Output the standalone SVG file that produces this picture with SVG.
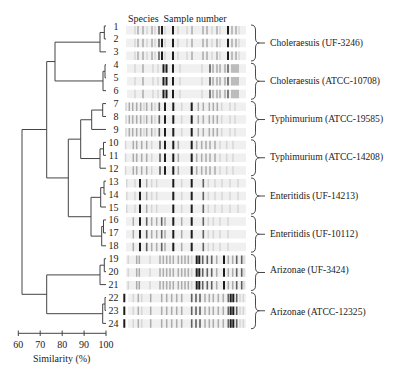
<svg xmlns="http://www.w3.org/2000/svg" width="400" height="378" viewBox="0 0 400 378">
<style>
.ln{stroke:#444;stroke-width:1;fill:none}
.t{font-family:"Liberation Serif",serif;font-size:10px;fill:#222}
.lb{font-family:"Liberation Serif",serif;font-size:9.6px;fill:#222}
.bg{fill:#f0f0f0}
.k{stroke:#1c1c1c;stroke-width:2;fill:none}
.d{stroke:#606060;stroke-width:1.6;fill:none}
.m{stroke:#ababab;stroke-width:1.5;fill:none}
.l{stroke:#d6d6d6;stroke-width:1.5;fill:none}
.br{stroke:#333;stroke-width:0.9;fill:none}
.lane{filter:url(#soft)}
</style>
<defs>
<filter id="soft" x="-5%" y="-20%" width="110%" height="140%"><feGaussianBlur stdDeviation="0.45 0.25"/></filter>
<g id="p1"><rect class="bg" x="126" y="0" width="120" height="8.5"/>
<path class="l" d="M135,0v8.5M147,0v8.5M155,0v8.5M165,0v8.5M178,0v8.5M187,0v8.5M212,0v8.5M220,0v8.5M239,0v8.5"/>
<path class="m" d="M138,0v8.5M143,0v8.5M152,0v8.5M192,0v8.5M203,0v8.5M207,0v8.5M217,0v8.5M232,0v8.5M236,0v8.5"/>
<path class="d" d="M159,0v8.5"/>
<path class="k" d="M162,0v8.5M173,0v8.5M228,0v8.5"/></g>
<g id="p2"><rect class="bg" x="127" y="0" width="119" height="8.5"/>
<path class="l" d="M135,0v8.5M153,0v8.5M158,0v8.5M180,0v8.5M202,0v8.5"/>
<path class="m" d="M143,0v8.5M213,0v8.5M217,0v8.5M220,0v8.5M225,0v8.5M232,0v8.5M234,0v8.5M236,0v8.5M238,0v8.5"/>
<path class="d" d="M210,0v8.5M228,0v8.5"/>
<path class="k" d="M163.5,0v8.5M166.5,0v8.5M173,0v8.5"/></g>
<g id="p3"><rect class="bg" x="125" y="0" width="121" height="8.5"/>
<path class="l" d="M126,0v8.5M144,0v8.5M155,0v8.5M181.7,0v8.5M221.7,0v8.5M230,0v8.5M235,0v8.5"/>
<path class="m" d="M129.3,0v8.5M132.7,0v8.5M136.7,0v8.5M140.7,0v8.5M146.7,0v8.5M151.7,0v8.5M198.3,0v8.5M203.3,0v8.5M209.3,0v8.5M213.3,0v8.5M217.3,0v8.5"/>
<path class="d" d="M159.3,0v8.5"/>
<path class="k" d="M165,0v8.5M173.3,0v8.5M191.7,0v8.5"/></g>
<g id="p4"><rect class="bg" x="125" y="0" width="121" height="8.5"/>
<path class="l" d="M125.5,0v8.5M151.7,0v8.5M220,0v8.5M226.7,0v8.5M233,0v8.5"/>
<path class="m" d="M133.3,0v8.5M136.7,0v8.5M141.7,0v8.5M146.7,0v8.5M178.3,0v8.5M196.7,0v8.5M201.7,0v8.5M206,0v8.5M210,0v8.5M215,0v8.5"/>
<path class="d" d="M160,0v8.5"/>
<path class="k" d="M165,0v8.5M173.3,0v8.5M191.7,0v8.5"/></g>
<g id="p5"><rect class="bg" x="126" y="0" width="120" height="8.5"/>
<path class="l" d="M126.7,0v8.5M135,0v8.5M151.7,0v8.5M156.7,0v8.5M181.7,0v8.5M208.3,0v8.5M215,0v8.5M222,0v8.5M230,0v8.5M238,0v8.5"/>
<path class="m" d="M146.7,0v8.5"/>
<path class="d" d="M203.3,0v8.5"/>
<path class="k" d="M140,0v8.5M173.3,0v8.5M191.7,0v8.5"/></g>
<g id="p6"><rect class="bg" x="126" y="0" width="120" height="8.5"/>
<path class="l" d="M208.3,0v8.5M213.3,0v8.5M220,0v8.5M228,0v8.5"/>
<path class="m" d="M133.3,0v8.5M151.7,0v8.5M156.7,0v8.5M165,0v8.5M181.7,0v8.5"/>
<path class="d" d="M146.7,0v8.5M161.7,0v8.5M203.3,0v8.5"/>
<path class="k" d="M140,0v8.5M173.3,0v8.5M191.7,0v8.5"/></g>
<g id="p7"><rect class="bg" x="126" y="0" width="120" height="8.5"/>
<path class="l" d="M128.3,0v8.5M150,0v8.5M191.7,0v8.5M244,0v8.5"/>
<path class="m" d="M136.7,0v8.5M139.3,0v8.5M160,0v8.5M163.3,0v8.5M166.7,0v8.5M170,0v8.5M173.3,0v8.5M178.3,0v8.5M181.7,0v8.5M185,0v8.5M188.3,0v8.5M216.7,0v8.5M228.3,0v8.5M232.7,0v8.5"/>
<path class="d" d="M202.7,0v8.5M207.3,0v8.5M211.7,0v8.5M236.7,0v8.5M241.7,0v8.5"/>
<path class="k" d="M196.7,0v8.5M199.3,0v8.5M224,0v8.5"/></g>
<g id="p8"><rect class="bg" x="128" y="0" width="118" height="8.5"/>
<path class="k" d="M124.3,0v8.5"/>
<path class="l" d="M133.3,0v8.5M141.7,0v8.5M240,0v8.5M243.3,0v8.5"/>
<path class="m" d="M138.3,0v8.5M150.7,0v8.5M161.7,0v8.5M166.7,0v8.5M171.7,0v8.5M176.7,0v8.5M181.7,0v8.5M205,0v8.5M209.3,0v8.5M213.3,0v8.5M218.3,0v8.5M223.3,0v8.5"/>
<path class="d" d="M191.7,0v8.5M196,0v8.5M200,0v8.5M228.3,0v8.5M236.7,0v8.5"/>
<path class="k" d="M230.7,0v8.5M233.3,0v8.5"/></g>
</defs>

<g id="header">
<text class="t" x="128" y="21.5">Species</text>
<text class="t" x="163.5" y="21.5">Sample number</text>
</g>

<g id="connectors" class="ln">
<path d="M106,26H104.3V38.93H106"/>
<path d="M104.3,32.47H100V51.86H106"/>
<path d="M106,64.79H105V77.72H106"/>
<path d="M105,71.26H103V90.65H106"/>
<path d="M100,42.17H55V80.96H103"/>
<path d="M106,103.58H102.7V116.51H106"/>
<path d="M102.7,110.05H91.7V129.44H106"/>
<path d="M106,142.37H103.5V155.3H106"/>
<path d="M103.5,148.84H100V168.23H106"/>
<path d="M91.7,119.75H80.7V158.54H100"/>
<path d="M106,181.16H104V194.09H106"/>
<path d="M104,187.63H100.7V207.02H106"/>
<path d="M106,219.95H103.5V232.88H106"/>
<path d="M103.5,226.42H101.7V245.81H106"/>
<path d="M100.7,197.33H91V236.12H101.7"/>
<path d="M80.7,139.15H68.3V216.72H91"/>
<path d="M55,61.56H46.7V177.93H68.3"/>
<path d="M106,258.74H104.3V271.67H106"/>
<path d="M104.3,265.2H100V284.6H106"/>
<path d="M106,297.53H105V310.46H106"/>
<path d="M105,304H102.7V323.39H106"/>
<path d="M100,274.9H46.7V313.7H102.7"/>
<path d="M46.7,129.5H22V294.3H46.7"/>
</g>

<g id="row1"><text class="t" x="118.5" y="29.5" text-anchor="end">1</text><use class="lane" href="#p1" y="26"/></g>
<g id="row2"><text class="t" x="118.5" y="42.43" text-anchor="end">2</text><use class="lane" href="#p1" y="38.75"/></g>
<g id="row3"><text class="t" x="118.5" y="55.36" text-anchor="end">3</text><use class="lane" href="#p1" y="51.5"/></g>
<g id="row4"><text class="t" x="118.5" y="68.29" text-anchor="end">4</text><use class="lane" href="#p2" y="64.25"/></g>
<g id="row5"><text class="t" x="118.5" y="81.22" text-anchor="end">5</text><use class="lane" href="#p2" y="77"/></g>
<g id="row6"><text class="t" x="118.5" y="94.15" text-anchor="end">6</text><use class="lane" href="#p2" y="89.75"/></g>
<g id="row7"><text class="t" x="118.5" y="107.08" text-anchor="end">7</text><use class="lane" href="#p3" y="102.5"/></g>
<g id="row8"><text class="t" x="118.5" y="120.01" text-anchor="end">8</text><use class="lane" href="#p3" y="115.25"/></g>
<g id="row9"><text class="t" x="118.5" y="132.94" text-anchor="end">9</text><use class="lane" href="#p3" y="128"/></g>
<g id="row10"><text class="t" x="118.5" y="145.87" text-anchor="end">10</text><use class="lane" href="#p4" y="140.75"/></g>
<g id="row11"><text class="t" x="118.5" y="158.8" text-anchor="end">11</text><use class="lane" href="#p4" y="153.5"/></g>
<g id="row12"><text class="t" x="118.5" y="171.73" text-anchor="end">12</text><use class="lane" href="#p4" y="166.25"/></g>
<g id="row13"><text class="t" x="118.5" y="184.66" text-anchor="end">13</text><use class="lane" href="#p5" y="179"/></g>
<g id="row14"><text class="t" x="118.5" y="197.59" text-anchor="end">14</text><use class="lane" href="#p5" y="191.75"/></g>
<g id="row15"><text class="t" x="118.5" y="210.52" text-anchor="end">15</text><use class="lane" href="#p5" y="204.5"/></g>
<g id="row16"><text class="t" x="118.5" y="223.45" text-anchor="end">16</text><use class="lane" href="#p6" y="217.25"/></g>
<g id="row17"><text class="t" x="118.5" y="236.38" text-anchor="end">17</text><use class="lane" href="#p6" y="230"/></g>
<g id="row18"><text class="t" x="118.5" y="249.31" text-anchor="end">18</text><use class="lane" href="#p6" y="242.75"/></g>
<g id="row19"><text class="t" x="118.5" y="262.24" text-anchor="end">19</text><use class="lane" href="#p7" y="255.5"/></g>
<g id="row20"><text class="t" x="118.5" y="275.17" text-anchor="end">20</text><use class="lane" href="#p7" y="268.25"/></g>
<g id="row21"><text class="t" x="118.5" y="288.1" text-anchor="end">21</text><use class="lane" href="#p7" y="281"/></g>
<g id="row22"><text class="t" x="118.5" y="301.03" text-anchor="end">22</text><use class="lane" href="#p8" y="293.75"/></g>
<g id="row23"><text class="t" x="118.5" y="313.96" text-anchor="end">23</text><use class="lane" href="#p8" y="306.5"/></g>
<g id="row24"><text class="t" x="118.5" y="326.89" text-anchor="end">24</text><use class="lane" href="#p8" y="319.25"/></g>

<g id="grp1"><path class="br" d="M251,25Q255.5,25 255.5,30V38Q255.5,43 259.5,43Q255.5,43 255.5,48V56Q255.5,61 251,61M259.5,43H265"/><text class="lb" x="270" y="46.3">Choleraesuis (UF-3246)</text></g>
<g id="grp2"><path class="br" d="M251,63.25Q255.5,63.25 255.5,68.25V76.25Q255.5,81.25 259.5,81.25Q255.5,81.25 255.5,86.25V94.25Q255.5,99.25 251,99.25M259.5,81.25H265"/><text class="lb" x="270" y="84.3">Choleraesuis (ATCC-10708)</text></g>
<g id="grp3"><path class="br" d="M251,101.5Q255.5,101.5 255.5,106.5V114.5Q255.5,119.5 259.5,119.5Q255.5,119.5 255.5,124.5V132.5Q255.5,137.5 251,137.5M259.5,119.5H265"/><text class="lb" x="270" y="122.3">Typhimurium (ATCC-19585)</text></g>
<g id="grp4"><path class="br" d="M251,139.75Q255.5,139.75 255.5,144.75V152.75Q255.5,157.75 259.5,157.75Q255.5,157.75 255.5,162.75V170.75Q255.5,175.75 251,175.75M259.5,157.75H265"/><text class="lb" x="270" y="159.8">Typhimurium (ATCC-14208)</text></g>
<g id="grp5"><path class="br" d="M251,178Q255.5,178 255.5,183V191Q255.5,196 259.5,196Q255.5,196 255.5,201V209Q255.5,214 251,214M259.5,196H265"/><text class="lb" x="270" y="198.6">Enteritidis (UF-14213)</text></g>
<g id="grp6"><path class="br" d="M251,216.25Q255.5,216.25 255.5,221.25V229.25Q255.5,234.25 259.5,234.25Q255.5,234.25 255.5,239.25V247.25Q255.5,252.25 251,252.25M259.5,234.25H265"/><text class="lb" x="270" y="236.6">Enteritidis (UF-10112)</text></g>
<g id="grp7"><path class="br" d="M251,254.5Q255.5,254.5 255.5,259.5V267.5Q255.5,272.5 259.5,272.5Q255.5,272.5 255.5,277.5V285.5Q255.5,290.5 251,290.5M259.5,272.5H265"/><text class="lb" x="270" y="273.3">Arizonae (UF-3424)</text></g>
<g id="grp8"><path class="br" d="M251,292.75Q255.5,292.75 255.5,297.75V305.75Q255.5,310.75 259.5,310.75Q255.5,310.75 255.5,315.75V323.75Q255.5,328.75 251,328.75M259.5,310.75H265"/><text class="lb" x="270" y="314.6">Arizonae (ATCC-12325)</text></g>

<g id="axis">
<path class="ln" d="M18.3,333.3H106M18.3,330.5V336M40.2,330.5V336M62.2,330.5V336M84.1,330.5V336M106,330.5V336"/>
<text class="t" x="18.3" y="347.8" text-anchor="middle">60</text>
<text class="t" x="40.2" y="347.8" text-anchor="middle">70</text>
<text class="t" x="62.2" y="347.8" text-anchor="middle">80</text>
<text class="t" x="84.1" y="347.8" text-anchor="middle">90</text>
<text class="t" x="106" y="347.8" text-anchor="middle">100</text>
<text class="t" x="61.7" y="362.3" text-anchor="middle">Similarity (%)</text>
</g>
</svg>
